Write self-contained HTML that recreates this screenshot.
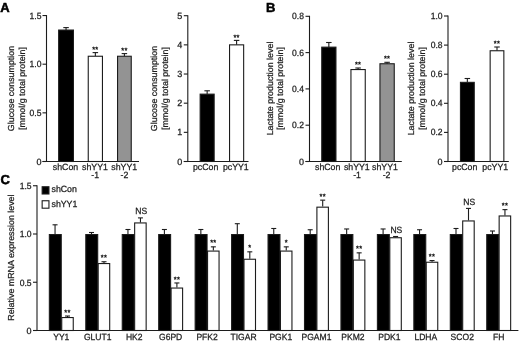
<!DOCTYPE html>
<html><head><meta charset="utf-8"><title>Figure</title>
<style>html,body{margin:0;padding:0;background:#fff;}svg{display:block;font-family:'Liberation Sans', sans-serif;text-rendering:geometricPrecision;}</style>
</head><body>
<svg width="520" height="343" viewBox="0 0 520 343">
<rect x="0" y="0" width="520" height="343" fill="#ffffff"/>
<text x="0.30" y="11.80" font-size="13" text-anchor="start" fill="#000" font-weight="bold" stroke="#000" stroke-width="0.5">A</text>
<text x="266.10" y="11.80" font-size="13" text-anchor="start" fill="#000" font-weight="bold" stroke="#000" stroke-width="0.5">B</text>
<text x="0.40" y="184.40" font-size="13" text-anchor="start" fill="#000" font-weight="bold" stroke="#000" stroke-width="0.5">C</text>
<line x1="46.50" y1="15.05" x2="46.50" y2="162.00" stroke="#1c1c1c" stroke-width="1.1"/>
<line x1="42.50" y1="15.55" x2="46.50" y2="15.55" stroke="#1c1c1c" stroke-width="1.1"/>
<text x="41.50" y="18.55" font-size="9" text-anchor="end" fill="#1c1c1c" textLength="11.89" lengthAdjust="spacingAndGlyphs" stroke="#1c1c1c" stroke-width="0.25">1.5</text>
<line x1="42.50" y1="64.20" x2="46.50" y2="64.20" stroke="#1c1c1c" stroke-width="1.1"/>
<text x="41.50" y="67.20" font-size="9" text-anchor="end" fill="#1c1c1c" textLength="11.89" lengthAdjust="spacingAndGlyphs" stroke="#1c1c1c" stroke-width="0.25">1.0</text>
<line x1="42.50" y1="112.85" x2="46.50" y2="112.85" stroke="#1c1c1c" stroke-width="1.1"/>
<text x="41.50" y="115.85" font-size="9" text-anchor="end" fill="#1c1c1c" textLength="11.89" lengthAdjust="spacingAndGlyphs" stroke="#1c1c1c" stroke-width="0.25">0.5</text>
<line x1="42.50" y1="161.50" x2="46.50" y2="161.50" stroke="#1c1c1c" stroke-width="1.1"/>
<text x="41.50" y="164.50" font-size="9" text-anchor="end" fill="#1c1c1c" stroke="#1c1c1c" stroke-width="0.25">0</text>
<line x1="66.05" y1="30.00" x2="66.05" y2="27.60" stroke="#1c1c1c" stroke-width="1.1"/>
<line x1="63.30" y1="27.60" x2="68.80" y2="27.60" stroke="#1c1c1c" stroke-width="1.1"/>
<rect x="58.65" y="30.05" width="14.80" height="131.45" fill="#000000" stroke="#1c1c1c" stroke-width="1.1"/>
<line x1="95.35" y1="56.20" x2="95.35" y2="52.60" stroke="#1c1c1c" stroke-width="1.1"/>
<line x1="92.60" y1="52.60" x2="98.10" y2="52.60" stroke="#1c1c1c" stroke-width="1.1"/>
<rect x="88.25" y="56.25" width="14.20" height="105.25" fill="#ffffff" stroke="#1c1c1c" stroke-width="1.1"/>
<text x="95.35" y="51.80" font-size="7.5" text-anchor="middle" fill="#000" letter-spacing="0.3" stroke="#000" stroke-width="0.25">**</text>
<line x1="124.40" y1="56.20" x2="124.40" y2="53.60" stroke="#1c1c1c" stroke-width="1.1"/>
<line x1="121.65" y1="53.60" x2="127.15" y2="53.60" stroke="#1c1c1c" stroke-width="1.1"/>
<rect x="117.55" y="56.25" width="13.70" height="105.25" fill="#939393" stroke="#1c1c1c" stroke-width="1.1"/>
<text x="124.40" y="53.10" font-size="7.5" text-anchor="middle" fill="#000" letter-spacing="0.3" stroke="#000" stroke-width="0.25">**</text>
<line x1="42.50" y1="161.50" x2="139.00" y2="161.50" stroke="#1c1c1c" stroke-width="1.1"/>
<text x="65.50" y="170.40" font-size="9" text-anchor="middle" fill="#1c1c1c" textLength="25.37" lengthAdjust="spacingAndGlyphs" stroke="#1c1c1c" stroke-width="0.25">shCon</text>
<text x="95.00" y="170.40" font-size="9" text-anchor="middle" fill="#1c1c1c" textLength="25.85" lengthAdjust="spacingAndGlyphs" stroke="#1c1c1c" stroke-width="0.25">shYY1</text>
<text x="124.20" y="170.40" font-size="9" text-anchor="middle" fill="#1c1c1c" textLength="25.85" lengthAdjust="spacingAndGlyphs" stroke="#1c1c1c" stroke-width="0.25">shYY1</text>
<text x="95.20" y="177.90" font-size="9" text-anchor="middle" fill="#1c1c1c" textLength="7.80" lengthAdjust="spacingAndGlyphs" stroke="#1c1c1c" stroke-width="0.25">-1</text>
<text x="124.40" y="177.90" font-size="9" text-anchor="middle" fill="#1c1c1c" textLength="7.80" lengthAdjust="spacingAndGlyphs" stroke="#1c1c1c" stroke-width="0.25">-2</text>
<text x="13.80" y="88.50" font-size="8.7" text-anchor="middle" fill="#1c1c1c" textLength="85.34" lengthAdjust="spacingAndGlyphs" transform="rotate(-90 13.80 88.50)" stroke="#1c1c1c" stroke-width="0.25">Glucose consumption</text>
<text x="25.00" y="88.50" font-size="8.7" text-anchor="middle" fill="#1c1c1c" textLength="82.86" lengthAdjust="spacingAndGlyphs" transform="rotate(-90 25.00 88.50)" stroke="#1c1c1c" stroke-width="0.25">[mmol/g total protein]</text>
<line x1="187.80" y1="15.20" x2="187.80" y2="162.00" stroke="#1c1c1c" stroke-width="1.1"/>
<line x1="183.80" y1="161.50" x2="187.80" y2="161.50" stroke="#1c1c1c" stroke-width="1.1"/>
<text x="182.30" y="164.50" font-size="9" text-anchor="end" fill="#1c1c1c" stroke="#1c1c1c" stroke-width="0.25">0</text>
<line x1="183.80" y1="132.34" x2="187.80" y2="132.34" stroke="#1c1c1c" stroke-width="1.1"/>
<text x="182.30" y="135.34" font-size="9" text-anchor="end" fill="#1c1c1c" stroke="#1c1c1c" stroke-width="0.25">1</text>
<line x1="183.80" y1="103.18" x2="187.80" y2="103.18" stroke="#1c1c1c" stroke-width="1.1"/>
<text x="182.30" y="106.18" font-size="9" text-anchor="end" fill="#1c1c1c" stroke="#1c1c1c" stroke-width="0.25">2</text>
<line x1="183.80" y1="74.02" x2="187.80" y2="74.02" stroke="#1c1c1c" stroke-width="1.1"/>
<text x="182.30" y="77.02" font-size="9" text-anchor="end" fill="#1c1c1c" stroke="#1c1c1c" stroke-width="0.25">3</text>
<line x1="183.80" y1="44.86" x2="187.80" y2="44.86" stroke="#1c1c1c" stroke-width="1.1"/>
<text x="182.30" y="47.86" font-size="9" text-anchor="end" fill="#1c1c1c" stroke="#1c1c1c" stroke-width="0.25">4</text>
<line x1="183.80" y1="15.70" x2="187.80" y2="15.70" stroke="#1c1c1c" stroke-width="1.1"/>
<text x="182.30" y="18.70" font-size="9" text-anchor="end" fill="#1c1c1c" stroke="#1c1c1c" stroke-width="0.25">5</text>
<line x1="207.15" y1="94.10" x2="207.15" y2="90.80" stroke="#1c1c1c" stroke-width="1.1"/>
<line x1="204.40" y1="90.80" x2="209.90" y2="90.80" stroke="#1c1c1c" stroke-width="1.1"/>
<rect x="200.15" y="94.15" width="14.00" height="67.35" fill="#000000" stroke="#1c1c1c" stroke-width="1.1"/>
<line x1="236.60" y1="44.80" x2="236.60" y2="40.40" stroke="#1c1c1c" stroke-width="1.1"/>
<line x1="233.85" y1="40.40" x2="239.35" y2="40.40" stroke="#1c1c1c" stroke-width="1.1"/>
<rect x="229.55" y="44.85" width="14.10" height="116.65" fill="#ffffff" stroke="#1c1c1c" stroke-width="1.1"/>
<text x="236.60" y="40.00" font-size="7.5" text-anchor="middle" fill="#000" letter-spacing="0.3" stroke="#000" stroke-width="0.25">**</text>
<line x1="183.80" y1="161.50" x2="248.50" y2="161.50" stroke="#1c1c1c" stroke-width="1.1"/>
<text x="205.60" y="170.40" font-size="9" text-anchor="middle" fill="#1c1c1c" textLength="25.37" lengthAdjust="spacingAndGlyphs" stroke="#1c1c1c" stroke-width="0.25">pcCon</text>
<text x="235.80" y="170.40" font-size="9" text-anchor="middle" fill="#1c1c1c" textLength="25.85" lengthAdjust="spacingAndGlyphs" stroke="#1c1c1c" stroke-width="0.25">pcYY1</text>
<text x="157.30" y="88.50" font-size="8.7" text-anchor="middle" fill="#1c1c1c" textLength="85.34" lengthAdjust="spacingAndGlyphs" transform="rotate(-90 157.30 88.50)" stroke="#1c1c1c" stroke-width="0.25">Glucose consumption</text>
<text x="167.80" y="88.50" font-size="8.7" text-anchor="middle" fill="#1c1c1c" textLength="82.86" lengthAdjust="spacingAndGlyphs" transform="rotate(-90 167.80 88.50)" stroke="#1c1c1c" stroke-width="0.25">[mmol/g total protein]</text>
<line x1="309.50" y1="15.80" x2="309.50" y2="162.00" stroke="#1c1c1c" stroke-width="1.1"/>
<line x1="305.50" y1="161.50" x2="309.50" y2="161.50" stroke="#1c1c1c" stroke-width="1.1"/>
<text x="304.00" y="164.50" font-size="9" text-anchor="end" fill="#1c1c1c" stroke="#1c1c1c" stroke-width="0.25">0</text>
<line x1="305.50" y1="125.20" x2="309.50" y2="125.20" stroke="#1c1c1c" stroke-width="1.1"/>
<text x="304.00" y="128.20" font-size="9" text-anchor="end" fill="#1c1c1c" textLength="11.89" lengthAdjust="spacingAndGlyphs" stroke="#1c1c1c" stroke-width="0.25">0.2</text>
<line x1="305.50" y1="88.90" x2="309.50" y2="88.90" stroke="#1c1c1c" stroke-width="1.1"/>
<text x="304.00" y="91.90" font-size="9" text-anchor="end" fill="#1c1c1c" textLength="11.89" lengthAdjust="spacingAndGlyphs" stroke="#1c1c1c" stroke-width="0.25">0.4</text>
<line x1="305.50" y1="52.60" x2="309.50" y2="52.60" stroke="#1c1c1c" stroke-width="1.1"/>
<text x="304.00" y="55.60" font-size="9" text-anchor="end" fill="#1c1c1c" textLength="11.89" lengthAdjust="spacingAndGlyphs" stroke="#1c1c1c" stroke-width="0.25">0.6</text>
<line x1="305.50" y1="16.30" x2="309.50" y2="16.30" stroke="#1c1c1c" stroke-width="1.1"/>
<text x="304.00" y="19.30" font-size="9" text-anchor="end" fill="#1c1c1c" textLength="11.89" lengthAdjust="spacingAndGlyphs" stroke="#1c1c1c" stroke-width="0.25">0.8</text>
<line x1="328.85" y1="47.10" x2="328.85" y2="42.50" stroke="#1c1c1c" stroke-width="1.1"/>
<line x1="326.10" y1="42.50" x2="331.60" y2="42.50" stroke="#1c1c1c" stroke-width="1.1"/>
<rect x="321.75" y="47.15" width="14.20" height="114.35" fill="#000000" stroke="#1c1c1c" stroke-width="1.1"/>
<line x1="358.10" y1="69.50" x2="358.10" y2="68.00" stroke="#1c1c1c" stroke-width="1.1"/>
<line x1="355.35" y1="68.00" x2="360.85" y2="68.00" stroke="#1c1c1c" stroke-width="1.1"/>
<rect x="350.95" y="69.55" width="14.30" height="91.95" fill="#ffffff" stroke="#1c1c1c" stroke-width="1.1"/>
<text x="358.10" y="66.50" font-size="7.5" text-anchor="middle" fill="#000" letter-spacing="0.3" stroke="#000" stroke-width="0.25">**</text>
<line x1="387.10" y1="63.70" x2="387.10" y2="62.30" stroke="#1c1c1c" stroke-width="1.1"/>
<line x1="384.35" y1="62.30" x2="389.85" y2="62.30" stroke="#1c1c1c" stroke-width="1.1"/>
<rect x="379.95" y="63.75" width="14.30" height="97.75" fill="#939393" stroke="#1c1c1c" stroke-width="1.1"/>
<text x="387.10" y="60.50" font-size="7.5" text-anchor="middle" fill="#000" letter-spacing="0.3" stroke="#000" stroke-width="0.25">**</text>
<line x1="305.50" y1="161.50" x2="401.80" y2="161.50" stroke="#1c1c1c" stroke-width="1.1"/>
<text x="327.70" y="170.40" font-size="9" text-anchor="middle" fill="#1c1c1c" textLength="25.37" lengthAdjust="spacingAndGlyphs" stroke="#1c1c1c" stroke-width="0.25">shCon</text>
<text x="356.80" y="170.40" font-size="9" text-anchor="middle" fill="#1c1c1c" textLength="25.85" lengthAdjust="spacingAndGlyphs" stroke="#1c1c1c" stroke-width="0.25">shYY1</text>
<text x="385.00" y="170.40" font-size="9" text-anchor="middle" fill="#1c1c1c" textLength="25.85" lengthAdjust="spacingAndGlyphs" stroke="#1c1c1c" stroke-width="0.25">shYY1</text>
<text x="357.10" y="177.90" font-size="9" text-anchor="middle" fill="#1c1c1c" textLength="7.80" lengthAdjust="spacingAndGlyphs" stroke="#1c1c1c" stroke-width="0.25">-1</text>
<text x="386.60" y="177.90" font-size="9" text-anchor="middle" fill="#1c1c1c" textLength="7.80" lengthAdjust="spacingAndGlyphs" stroke="#1c1c1c" stroke-width="0.25">-2</text>
<text x="272.60" y="88.50" font-size="8.7" text-anchor="middle" fill="#1c1c1c" textLength="93.73" lengthAdjust="spacingAndGlyphs" transform="rotate(-90 272.60 88.50)" stroke="#1c1c1c" stroke-width="0.25">Lactate production level</text>
<text x="283.20" y="88.50" font-size="8.7" text-anchor="middle" fill="#1c1c1c" textLength="82.86" lengthAdjust="spacingAndGlyphs" transform="rotate(-90 283.20 88.50)" stroke="#1c1c1c" stroke-width="0.25">[mmol/g total protein]</text>
<line x1="448.00" y1="15.50" x2="448.00" y2="162.00" stroke="#1c1c1c" stroke-width="1.1"/>
<line x1="444.00" y1="161.50" x2="448.00" y2="161.50" stroke="#1c1c1c" stroke-width="1.1"/>
<text x="442.60" y="164.50" font-size="9" text-anchor="end" fill="#1c1c1c" stroke="#1c1c1c" stroke-width="0.25">0</text>
<line x1="444.00" y1="132.40" x2="448.00" y2="132.40" stroke="#1c1c1c" stroke-width="1.1"/>
<text x="442.60" y="135.40" font-size="9" text-anchor="end" fill="#1c1c1c" textLength="11.89" lengthAdjust="spacingAndGlyphs" stroke="#1c1c1c" stroke-width="0.25">0.2</text>
<line x1="444.00" y1="103.30" x2="448.00" y2="103.30" stroke="#1c1c1c" stroke-width="1.1"/>
<text x="442.60" y="106.30" font-size="9" text-anchor="end" fill="#1c1c1c" textLength="11.89" lengthAdjust="spacingAndGlyphs" stroke="#1c1c1c" stroke-width="0.25">0.4</text>
<line x1="444.00" y1="74.20" x2="448.00" y2="74.20" stroke="#1c1c1c" stroke-width="1.1"/>
<text x="442.60" y="77.20" font-size="9" text-anchor="end" fill="#1c1c1c" textLength="11.89" lengthAdjust="spacingAndGlyphs" stroke="#1c1c1c" stroke-width="0.25">0.6</text>
<line x1="444.00" y1="45.10" x2="448.00" y2="45.10" stroke="#1c1c1c" stroke-width="1.1"/>
<text x="442.60" y="48.10" font-size="9" text-anchor="end" fill="#1c1c1c" textLength="11.89" lengthAdjust="spacingAndGlyphs" stroke="#1c1c1c" stroke-width="0.25">0.8</text>
<line x1="444.00" y1="16.00" x2="448.00" y2="16.00" stroke="#1c1c1c" stroke-width="1.1"/>
<text x="442.60" y="19.00" font-size="9" text-anchor="end" fill="#1c1c1c" textLength="11.89" lengthAdjust="spacingAndGlyphs" stroke="#1c1c1c" stroke-width="0.25">1.0</text>
<line x1="467.35" y1="82.30" x2="467.35" y2="78.50" stroke="#1c1c1c" stroke-width="1.1"/>
<line x1="464.60" y1="78.50" x2="470.10" y2="78.50" stroke="#1c1c1c" stroke-width="1.1"/>
<rect x="460.45" y="82.35" width="13.80" height="79.15" fill="#000000" stroke="#1c1c1c" stroke-width="1.1"/>
<line x1="497.00" y1="50.70" x2="497.00" y2="47.00" stroke="#1c1c1c" stroke-width="1.1"/>
<line x1="494.25" y1="47.00" x2="499.75" y2="47.00" stroke="#1c1c1c" stroke-width="1.1"/>
<rect x="490.15" y="50.75" width="13.70" height="110.75" fill="#ffffff" stroke="#1c1c1c" stroke-width="1.1"/>
<text x="497.00" y="46.00" font-size="7.5" text-anchor="middle" fill="#000" letter-spacing="0.3" stroke="#000" stroke-width="0.25">**</text>
<line x1="444.00" y1="161.50" x2="508.80" y2="161.50" stroke="#1c1c1c" stroke-width="1.1"/>
<text x="464.70" y="170.40" font-size="9" text-anchor="middle" fill="#1c1c1c" textLength="25.37" lengthAdjust="spacingAndGlyphs" stroke="#1c1c1c" stroke-width="0.25">pcCon</text>
<text x="495.20" y="170.40" font-size="9" text-anchor="middle" fill="#1c1c1c" textLength="25.85" lengthAdjust="spacingAndGlyphs" stroke="#1c1c1c" stroke-width="0.25">pcYY1</text>
<text x="413.70" y="88.50" font-size="8.7" text-anchor="middle" fill="#1c1c1c" textLength="93.73" lengthAdjust="spacingAndGlyphs" transform="rotate(-90 413.70 88.50)" stroke="#1c1c1c" stroke-width="0.25">Lactate production level</text>
<text x="424.50" y="88.50" font-size="8.7" text-anchor="middle" fill="#1c1c1c" textLength="82.86" lengthAdjust="spacingAndGlyphs" transform="rotate(-90 424.50 88.50)" stroke="#1c1c1c" stroke-width="0.25">[mmol/g total protein]</text>
<line x1="37.00" y1="185.25" x2="37.00" y2="331.00" stroke="#1c1c1c" stroke-width="1.1"/>
<line x1="33.00" y1="330.50" x2="37.00" y2="330.50" stroke="#1c1c1c" stroke-width="1.1"/>
<text x="31.60" y="333.80" font-size="9" text-anchor="end" fill="#1c1c1c" stroke="#1c1c1c" stroke-width="0.25">0</text>
<line x1="33.00" y1="282.25" x2="37.00" y2="282.25" stroke="#1c1c1c" stroke-width="1.1"/>
<text x="31.60" y="285.55" font-size="9" text-anchor="end" fill="#1c1c1c" textLength="11.89" lengthAdjust="spacingAndGlyphs" stroke="#1c1c1c" stroke-width="0.25">0.5</text>
<line x1="33.00" y1="234.00" x2="37.00" y2="234.00" stroke="#1c1c1c" stroke-width="1.1"/>
<text x="31.60" y="237.30" font-size="9" text-anchor="end" fill="#1c1c1c" textLength="11.89" lengthAdjust="spacingAndGlyphs" stroke="#1c1c1c" stroke-width="0.25">1.0</text>
<line x1="33.00" y1="185.75" x2="37.00" y2="185.75" stroke="#1c1c1c" stroke-width="1.1"/>
<text x="31.60" y="189.05" font-size="9" text-anchor="end" fill="#1c1c1c" textLength="11.89" lengthAdjust="spacingAndGlyphs" stroke="#1c1c1c" stroke-width="0.25">1.5</text>
<line x1="55.05" y1="234.00" x2="55.05" y2="224.81" stroke="#1c1c1c" stroke-width="1.1"/>
<line x1="52.55" y1="224.81" x2="57.55" y2="224.81" stroke="#1c1c1c" stroke-width="1.1"/>
<rect x="49.35" y="234.55" width="11.90" height="95.95" fill="#000000" stroke="#1c1c1c" stroke-width="1.1"/>
<line x1="67.55" y1="317.00" x2="67.55" y2="316.03" stroke="#1c1c1c" stroke-width="1.1"/>
<line x1="65.05" y1="316.03" x2="70.05" y2="316.03" stroke="#1c1c1c" stroke-width="1.1"/>
<rect x="61.75" y="317.55" width="11.50" height="12.95" fill="#ffffff" stroke="#1c1c1c" stroke-width="1.1"/>
<text x="67.55" y="314.63" font-size="7.5" text-anchor="middle" fill="#000" letter-spacing="0.3" stroke="#000" stroke-width="0.25">**</text>
<text x="61.30" y="340.20" font-size="9" text-anchor="middle" fill="#1c1c1c" textLength="16.16" lengthAdjust="spacingAndGlyphs" stroke="#1c1c1c" stroke-width="0.25">YY1</text>
<line x1="91.50" y1="234.00" x2="91.50" y2="232.50" stroke="#1c1c1c" stroke-width="1.1"/>
<line x1="89.00" y1="232.50" x2="94.00" y2="232.50" stroke="#1c1c1c" stroke-width="1.1"/>
<rect x="85.80" y="234.55" width="11.90" height="95.95" fill="#000000" stroke="#1c1c1c" stroke-width="1.1"/>
<line x1="104.00" y1="263.00" x2="104.00" y2="261.74" stroke="#1c1c1c" stroke-width="1.1"/>
<line x1="101.50" y1="261.74" x2="106.50" y2="261.74" stroke="#1c1c1c" stroke-width="1.1"/>
<rect x="98.20" y="263.55" width="11.50" height="66.95" fill="#ffffff" stroke="#1c1c1c" stroke-width="1.1"/>
<text x="104.00" y="260.34" font-size="7.5" text-anchor="middle" fill="#000" letter-spacing="0.3" stroke="#000" stroke-width="0.25">**</text>
<text x="97.75" y="340.20" font-size="9" text-anchor="middle" fill="#1c1c1c" textLength="27.56" lengthAdjust="spacingAndGlyphs" stroke="#1c1c1c" stroke-width="0.25">GLUT1</text>
<line x1="127.95" y1="234.00" x2="127.95" y2="229.50" stroke="#1c1c1c" stroke-width="1.1"/>
<line x1="125.45" y1="229.50" x2="130.45" y2="229.50" stroke="#1c1c1c" stroke-width="1.1"/>
<rect x="122.25" y="234.55" width="11.90" height="95.95" fill="#000000" stroke="#1c1c1c" stroke-width="1.1"/>
<line x1="140.45" y1="222.39" x2="140.45" y2="217.89" stroke="#1c1c1c" stroke-width="1.1"/>
<line x1="137.95" y1="217.89" x2="142.95" y2="217.89" stroke="#1c1c1c" stroke-width="1.1"/>
<rect x="134.65" y="222.94" width="11.50" height="107.56" fill="#ffffff" stroke="#1c1c1c" stroke-width="1.1"/>
<text x="141.25" y="214.19" font-size="9" text-anchor="middle" fill="#1c1c1c" textLength="11.88" lengthAdjust="spacingAndGlyphs" stroke="#1c1c1c" stroke-width="0.25">NS</text>
<text x="134.20" y="340.20" font-size="9" text-anchor="middle" fill="#1c1c1c" textLength="16.63" lengthAdjust="spacingAndGlyphs" stroke="#1c1c1c" stroke-width="0.25">HK2</text>
<line x1="164.40" y1="234.00" x2="164.40" y2="229.50" stroke="#1c1c1c" stroke-width="1.1"/>
<line x1="161.90" y1="229.50" x2="166.90" y2="229.50" stroke="#1c1c1c" stroke-width="1.1"/>
<rect x="158.70" y="234.55" width="11.90" height="95.95" fill="#000000" stroke="#1c1c1c" stroke-width="1.1"/>
<line x1="176.90" y1="287.50" x2="176.90" y2="282.96" stroke="#1c1c1c" stroke-width="1.1"/>
<line x1="174.40" y1="282.96" x2="179.40" y2="282.96" stroke="#1c1c1c" stroke-width="1.1"/>
<rect x="171.10" y="288.05" width="11.50" height="42.45" fill="#ffffff" stroke="#1c1c1c" stroke-width="1.1"/>
<text x="176.90" y="281.56" font-size="7.5" text-anchor="middle" fill="#000" letter-spacing="0.3" stroke="#000" stroke-width="0.25">**</text>
<text x="170.65" y="340.20" font-size="9" text-anchor="middle" fill="#1c1c1c" textLength="23.28" lengthAdjust="spacingAndGlyphs" stroke="#1c1c1c" stroke-width="0.25">G6PD</text>
<line x1="200.85" y1="234.00" x2="200.85" y2="229.50" stroke="#1c1c1c" stroke-width="1.1"/>
<line x1="198.35" y1="229.50" x2="203.35" y2="229.50" stroke="#1c1c1c" stroke-width="1.1"/>
<rect x="195.15" y="234.55" width="11.90" height="95.95" fill="#000000" stroke="#1c1c1c" stroke-width="1.1"/>
<line x1="213.35" y1="250.53" x2="213.35" y2="246.85" stroke="#1c1c1c" stroke-width="1.1"/>
<line x1="210.85" y1="246.85" x2="215.85" y2="246.85" stroke="#1c1c1c" stroke-width="1.1"/>
<rect x="207.55" y="251.08" width="11.50" height="79.42" fill="#ffffff" stroke="#1c1c1c" stroke-width="1.1"/>
<text x="213.35" y="245.45" font-size="7.5" text-anchor="middle" fill="#000" letter-spacing="0.3" stroke="#000" stroke-width="0.25">**</text>
<text x="207.10" y="340.20" font-size="9" text-anchor="middle" fill="#1c1c1c" textLength="21.38" lengthAdjust="spacingAndGlyphs" stroke="#1c1c1c" stroke-width="0.25">PFK2</text>
<line x1="237.30" y1="234.00" x2="237.30" y2="223.70" stroke="#1c1c1c" stroke-width="1.1"/>
<line x1="234.80" y1="223.70" x2="239.80" y2="223.70" stroke="#1c1c1c" stroke-width="1.1"/>
<rect x="231.60" y="234.55" width="11.90" height="95.95" fill="#000000" stroke="#1c1c1c" stroke-width="1.1"/>
<line x1="249.80" y1="258.70" x2="249.80" y2="251.83" stroke="#1c1c1c" stroke-width="1.1"/>
<line x1="247.30" y1="251.83" x2="252.30" y2="251.83" stroke="#1c1c1c" stroke-width="1.1"/>
<rect x="244.00" y="259.25" width="11.50" height="71.25" fill="#ffffff" stroke="#1c1c1c" stroke-width="1.1"/>
<text x="249.80" y="250.43" font-size="7.5" text-anchor="middle" fill="#000" letter-spacing="0.3" stroke="#000" stroke-width="0.25">*</text>
<text x="243.55" y="340.20" font-size="9" text-anchor="middle" fill="#1c1c1c" textLength="26.13" lengthAdjust="spacingAndGlyphs" stroke="#1c1c1c" stroke-width="0.25">TIGAR</text>
<line x1="273.75" y1="234.00" x2="273.75" y2="228.49" stroke="#1c1c1c" stroke-width="1.1"/>
<line x1="271.25" y1="228.49" x2="276.25" y2="228.49" stroke="#1c1c1c" stroke-width="1.1"/>
<rect x="268.05" y="234.55" width="11.90" height="95.95" fill="#000000" stroke="#1c1c1c" stroke-width="1.1"/>
<line x1="286.25" y1="250.53" x2="286.25" y2="246.85" stroke="#1c1c1c" stroke-width="1.1"/>
<line x1="283.75" y1="246.85" x2="288.75" y2="246.85" stroke="#1c1c1c" stroke-width="1.1"/>
<rect x="280.45" y="251.08" width="11.50" height="79.42" fill="#ffffff" stroke="#1c1c1c" stroke-width="1.1"/>
<text x="286.25" y="245.45" font-size="7.5" text-anchor="middle" fill="#000" letter-spacing="0.3" stroke="#000" stroke-width="0.25">*</text>
<text x="280.80" y="340.20" font-size="9" text-anchor="middle" fill="#1c1c1c" textLength="22.81" lengthAdjust="spacingAndGlyphs" stroke="#1c1c1c" stroke-width="0.25">PGK1</text>
<line x1="310.20" y1="234.00" x2="310.20" y2="229.75" stroke="#1c1c1c" stroke-width="1.1"/>
<line x1="307.70" y1="229.75" x2="312.70" y2="229.75" stroke="#1c1c1c" stroke-width="1.1"/>
<rect x="304.50" y="234.55" width="11.90" height="95.95" fill="#000000" stroke="#1c1c1c" stroke-width="1.1"/>
<line x1="322.70" y1="206.62" x2="322.70" y2="200.15" stroke="#1c1c1c" stroke-width="1.1"/>
<line x1="320.20" y1="200.15" x2="325.20" y2="200.15" stroke="#1c1c1c" stroke-width="1.1"/>
<rect x="316.90" y="207.17" width="11.50" height="123.33" fill="#ffffff" stroke="#1c1c1c" stroke-width="1.1"/>
<text x="322.70" y="198.75" font-size="7.5" text-anchor="middle" fill="#000" letter-spacing="0.3" stroke="#000" stroke-width="0.25">**</text>
<text x="316.45" y="340.20" font-size="9" text-anchor="middle" fill="#1c1c1c" textLength="29.93" lengthAdjust="spacingAndGlyphs" stroke="#1c1c1c" stroke-width="0.25">PGAM1</text>
<line x1="346.65" y1="234.00" x2="346.65" y2="228.97" stroke="#1c1c1c" stroke-width="1.1"/>
<line x1="344.15" y1="228.97" x2="349.15" y2="228.97" stroke="#1c1c1c" stroke-width="1.1"/>
<rect x="340.95" y="234.55" width="11.90" height="95.95" fill="#000000" stroke="#1c1c1c" stroke-width="1.1"/>
<line x1="359.15" y1="259.52" x2="359.15" y2="252.85" stroke="#1c1c1c" stroke-width="1.1"/>
<line x1="356.65" y1="252.85" x2="361.65" y2="252.85" stroke="#1c1c1c" stroke-width="1.1"/>
<rect x="353.35" y="260.07" width="11.50" height="70.43" fill="#ffffff" stroke="#1c1c1c" stroke-width="1.1"/>
<text x="359.15" y="251.45" font-size="7.5" text-anchor="middle" fill="#000" letter-spacing="0.3" stroke="#000" stroke-width="0.25">**</text>
<text x="352.90" y="340.20" font-size="9" text-anchor="middle" fill="#1c1c1c" textLength="23.28" lengthAdjust="spacingAndGlyphs" stroke="#1c1c1c" stroke-width="0.25">PKM2</text>
<line x1="383.10" y1="234.00" x2="383.10" y2="228.97" stroke="#1c1c1c" stroke-width="1.1"/>
<line x1="380.60" y1="228.97" x2="385.60" y2="228.97" stroke="#1c1c1c" stroke-width="1.1"/>
<rect x="377.40" y="234.55" width="11.90" height="95.95" fill="#000000" stroke="#1c1c1c" stroke-width="1.1"/>
<line x1="395.60" y1="237.18" x2="395.60" y2="236.50" stroke="#1c1c1c" stroke-width="1.1"/>
<line x1="393.10" y1="236.50" x2="398.10" y2="236.50" stroke="#1c1c1c" stroke-width="1.1"/>
<rect x="389.80" y="237.73" width="11.50" height="92.77" fill="#ffffff" stroke="#1c1c1c" stroke-width="1.1"/>
<text x="396.40" y="232.80" font-size="9" text-anchor="middle" fill="#1c1c1c" textLength="11.88" lengthAdjust="spacingAndGlyphs" stroke="#1c1c1c" stroke-width="0.25">NS</text>
<text x="389.35" y="340.20" font-size="9" text-anchor="middle" fill="#1c1c1c" textLength="22.34" lengthAdjust="spacingAndGlyphs" stroke="#1c1c1c" stroke-width="0.25">PDK1</text>
<line x1="419.55" y1="234.00" x2="419.55" y2="229.75" stroke="#1c1c1c" stroke-width="1.1"/>
<line x1="417.05" y1="229.75" x2="422.05" y2="229.75" stroke="#1c1c1c" stroke-width="1.1"/>
<rect x="413.85" y="234.55" width="11.90" height="95.95" fill="#000000" stroke="#1c1c1c" stroke-width="1.1"/>
<line x1="432.05" y1="261.69" x2="432.05" y2="260.53" stroke="#1c1c1c" stroke-width="1.1"/>
<line x1="429.55" y1="260.53" x2="434.55" y2="260.53" stroke="#1c1c1c" stroke-width="1.1"/>
<rect x="426.25" y="262.24" width="11.50" height="68.26" fill="#ffffff" stroke="#1c1c1c" stroke-width="1.1"/>
<text x="432.05" y="259.13" font-size="7.5" text-anchor="middle" fill="#000" letter-spacing="0.3" stroke="#000" stroke-width="0.25">**</text>
<text x="425.80" y="340.20" font-size="9" text-anchor="middle" fill="#1c1c1c" textLength="22.81" lengthAdjust="spacingAndGlyphs" stroke="#1c1c1c" stroke-width="0.25">LDHA</text>
<line x1="456.00" y1="234.00" x2="456.00" y2="228.49" stroke="#1c1c1c" stroke-width="1.1"/>
<line x1="453.50" y1="228.49" x2="458.50" y2="228.49" stroke="#1c1c1c" stroke-width="1.1"/>
<rect x="450.30" y="234.55" width="11.90" height="95.95" fill="#000000" stroke="#1c1c1c" stroke-width="1.1"/>
<line x1="468.50" y1="220.40" x2="468.50" y2="208.41" stroke="#1c1c1c" stroke-width="1.1"/>
<line x1="466.00" y1="208.41" x2="471.00" y2="208.41" stroke="#1c1c1c" stroke-width="1.1"/>
<rect x="462.70" y="220.95" width="11.50" height="109.55" fill="#ffffff" stroke="#1c1c1c" stroke-width="1.1"/>
<text x="469.30" y="204.71" font-size="9" text-anchor="middle" fill="#1c1c1c" textLength="11.88" lengthAdjust="spacingAndGlyphs" stroke="#1c1c1c" stroke-width="0.25">NS</text>
<text x="462.25" y="340.20" font-size="9" text-anchor="middle" fill="#1c1c1c" textLength="23.28" lengthAdjust="spacingAndGlyphs" stroke="#1c1c1c" stroke-width="0.25">SCO2</text>
<line x1="492.45" y1="234.00" x2="492.45" y2="231.00" stroke="#1c1c1c" stroke-width="1.1"/>
<line x1="489.95" y1="231.00" x2="494.95" y2="231.00" stroke="#1c1c1c" stroke-width="1.1"/>
<rect x="486.75" y="234.55" width="11.90" height="95.95" fill="#000000" stroke="#1c1c1c" stroke-width="1.1"/>
<line x1="504.95" y1="215.42" x2="504.95" y2="209.62" stroke="#1c1c1c" stroke-width="1.1"/>
<line x1="502.45" y1="209.62" x2="507.45" y2="209.62" stroke="#1c1c1c" stroke-width="1.1"/>
<rect x="499.15" y="215.97" width="11.50" height="114.53" fill="#ffffff" stroke="#1c1c1c" stroke-width="1.1"/>
<text x="504.95" y="208.22" font-size="7.5" text-anchor="middle" fill="#000" letter-spacing="0.3" stroke="#000" stroke-width="0.25">**</text>
<text x="498.70" y="340.20" font-size="9" text-anchor="middle" fill="#1c1c1c" textLength="11.40" lengthAdjust="spacingAndGlyphs" stroke="#1c1c1c" stroke-width="0.25">FH</text>
<line x1="33.00" y1="330.50" x2="518.40" y2="330.50" stroke="#1c1c1c" stroke-width="1.1"/>
<rect x="42.15" y="186.75" width="6.80" height="7.25" fill="#000000" stroke="#1c1c1c" stroke-width="1.1"/>
<rect x="42.15" y="200.75" width="6.80" height="7.45" fill="#ffffff" stroke="#1c1c1c" stroke-width="1.1"/>
<text x="51.50" y="192.00" font-size="9" text-anchor="start" fill="#1c1c1c" textLength="25.37" lengthAdjust="spacingAndGlyphs" stroke="#1c1c1c" stroke-width="0.25">shCon</text>
<text x="51.50" y="206.70" font-size="9" text-anchor="start" fill="#1c1c1c" textLength="25.85" lengthAdjust="spacingAndGlyphs" stroke="#1c1c1c" stroke-width="0.25">shYY1</text>
<text x="13.80" y="257.60" font-size="8.7" text-anchor="middle" fill="#1c1c1c" textLength="126.26" lengthAdjust="spacingAndGlyphs" transform="rotate(-90 13.80 257.60)" stroke="#1c1c1c" stroke-width="0.25">Relative mRNA expression level</text>
</svg>
</body></html>
